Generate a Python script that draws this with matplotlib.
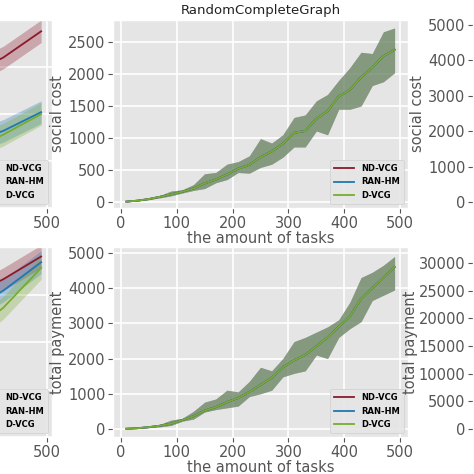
import matplotlib
matplotlib.use("Agg")
import matplotlib.pyplot as plt
import numpy as np

plt.style.use("ggplot")

tasks = list(range(10, 500, 20))
sc_mean = [5,20,45,80,120,160,210,290,350,430,520,580,700,790,910,1080,1110,1300,1420,1650,1750,1950,2100,2280,2380]
sc_up = [10,25,55,100,170,190,270,440,460,590,630,720,990,920,1050,1320,1360,1580,1680,1900,2100,2340,2320,2660,2720]
sc_lo = [2,15,35,65,95,140,180,210,300,350,460,450,540,590,700,860,860,1110,1050,1450,1450,1500,1820,1880,2020]
tp_mean = [5,20,50,90,150,250,360,520,620,760,880,1050,1250,1450,1750,1950,2100,2350,2600,2900,3200,3700,4000,4300,4600]
tp_up = [10,30,70,130,250,300,500,760,850,1100,1050,1350,1750,1650,2000,2480,2600,2750,2900,3100,3600,4300,4450,4650,4900]
tp_lo = [2,15,35,60,100,220,280,480,550,600,650,920,1000,1100,1480,1580,1650,2100,2000,2600,2850,3050,3650,3800,3950]

# left (cropped) panels, relative units
left_x = [350, 420, 490]
l_top = {"ND-VCG": [70, 80, 94], "RAN-HM": [34, 41, 51], "D-VCG": [30, 39, 50]}
l_bot = {"ND-VCG": [73, 83, 95], "RAN-HM": [65, 77, 92], "D-VCG": [52, 68, 89]}

names = ["ND-VCG", "RAN-HM", "D-VCG"]
colors = {"ND-VCG": "#8b1a2b", "RAN-HM": "#1f77b4", "D-VCG": "#77ac30"}

W = H = 474
FS = 10.5
fig = plt.figure(figsize=(4.74, 4.74), dpi=100)

def ax_px(l, t, r, b):
    return fig.add_axes([l / W, 1 - b / H, (r - l) / W, (b - t) / H])

def style(ax):
    ax.tick_params(labelsize=FS, colors="#555555", pad=2)
    ax.grid(True, color="white", lw=1.2)
    ax.set_facecolor("#e5e5e5")

def legend(ax):
    leg = ax.legend(loc="lower right", fontsize=6, framealpha=0.9,
                    handlelength=2.4, borderpad=0.5, labelspacing=0.5)
    for t in leg.get_texts():
        t.set_fontweight("bold")

for row, (t, b) in enumerate([(20, 208), (247, 437)]):
    # left panel
    axl = ax_px(-230, t, 52, b)
    style(axl)
    data = l_top if row == 0 else l_bot
    for n in names:
        v = np.array(data[n])
        axl.fill_between(left_x, v - 6, v + 6, color=colors[n], alpha=0.3, lw=0)
        axl.plot(left_x, v, color=colors[n], lw=1.3, label=n)
    axl.set_xlim(-10, 510)
    axl.set_ylim(0, 100)
    axl.set_xticks([0, 500])
    axl.set_yticks([0, 25, 50, 75])
    axl.set_yticklabels([])
    legend(axl)

    # middle panel
    axm = ax_px(113, t, 408, b)
    style(axm)
    mean, up, lo = (sc_mean, sc_up, sc_lo) if row == 0 else (tp_mean, tp_up, tp_lo)
    for n in names:
        axm.fill_between(tasks, lo, up, color=colors[n], alpha=0.35, lw=0)
    for n in names:
        axm.plot(tasks, mean, color=colors[n], lw=1.3, label=n)
    axm.set_xlim(-14, 514)
    axm.set_xticks([0, 100, 200, 300, 400, 500])
    if row == 0:
        axm.set_ylim(-95, 2845)
        axm.set_yticks([0, 500, 1000, 1500, 2000, 2500])
        axm.set_ylabel("social cost", fontsize=FS, color="#555555", labelpad=2)
        axm.set_title("RandomCompleteGraph", fontsize=9.5, color="#222222", pad=4)
    else:
        axm.set_ylim(-230, 5170)
        axm.set_yticks([0, 1000, 2000, 3000, 4000, 5000])
        axm.set_ylabel("total payment", fontsize=FS, color="#555555", labelpad=2)
    axm.set_xlabel("the amount of tasks", fontsize=FS, color="#555555", labelpad=0)
    legend(axm)

    # right panel (only tick labels visible)
    axr = ax_px(473, t, 700, b)
    style(axr)
    axr.set_xticks([])
    if row == 0:
        axr.set_ylim(-170, 5140)
        axr.set_yticks([0, 1000, 2000, 3000, 4000, 5000])
        axr.set_ylabel("social cost", fontsize=FS, color="#555555", labelpad=2)
    else:
        axr.set_ylim(-1450, 32900)
        axr.set_yticks([0, 5000, 10000, 15000, 20000, 25000, 30000])
        axr.set_ylabel("total payment", fontsize=FS, color="#555555", labelpad=0)

fig.savefig("out.png", dpi=100, facecolor="white")
